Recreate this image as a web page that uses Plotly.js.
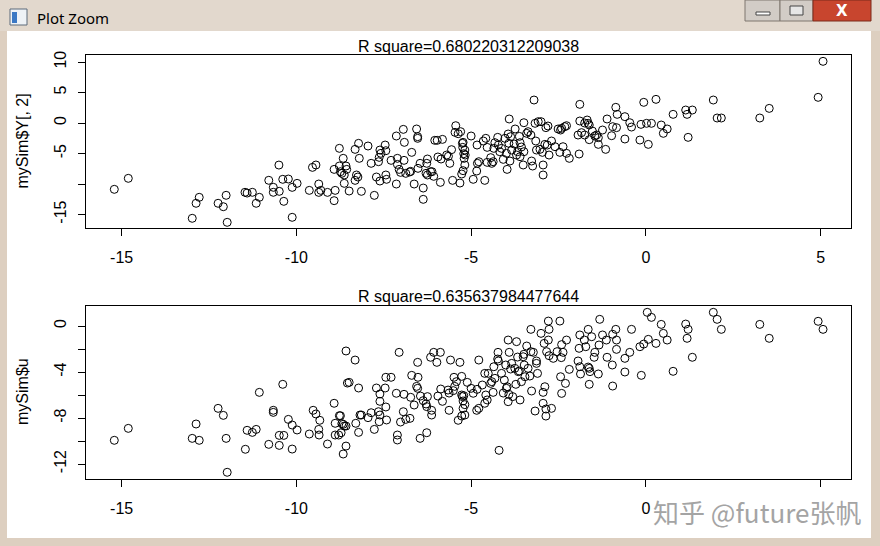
<!DOCTYPE html>
<html><head><meta charset="utf-8">
<script src="https://cdn.plot.ly/plotly-3.0.1.min.js"></script>
<style>html,body{margin:0;padding:0;background:#ddd0c2;overflow:hidden}#chart{width:880px;height:546px}</style>
</head><body><div id="chart"></div>
<script>
// ---- data (x = predictor, y = response) ----
const topX = [
-15.21,-14.81,-12.98,-12.87,-12.78,-12.24,-12.09,-12.01,-11.98,-11.47,-11.41,-11.26,-11.15,-11.06,-10.79,-10.66,-10.66,-10.50,-10.49,-10.39,-10.36,
-10.23,-10.12,-10.12,-9.98,-9.63,-9.54,-9.44,-9.36,-9.36,-9.30,
-9.11,-8.92,-8.89,-8.92,-8.77,-8.77,-8.74,-8.66,-8.70,-8.63,
-8.58,-8.56,-8.63,-8.49,-8.32,-8.32,-8.28,-8.24,-8.22,-8.20,
-8.14,-7.95,-7.86,-7.77,-7.71,-7.65,-7.63,-7.61,-7.58,-7.61,
-7.46,-7.44,-7.44,-7.42,-7.29,-7.14,-7.14,-7.11,-7.11,-7.06,
-7.02,-6.94,-6.92,-6.91,-6.87,-6.76,-6.73,-6.70,-6.63,-6.56,
-6.53,-6.53,-6.52,-6.46,-6.37,-6.37,-6.29,-6.27,-6.25,-6.25,
-6.16,-6.12,-6.07,-6.04,-5.97,-5.95,-5.88,-5.86,-5.82,-5.70,
-5.65,-5.61,-5.56,-5.53,-5.46,-5.44,-5.37,-5.32,-5.30,-5.27,
-5.25,-5.24,-5.23,-5.21,-5.20,-5.18,-5.17,-5.18,-5.23,-5.00,
-4.94,-4.84,-4.83,-4.82,-4.78,
-4.61,-4.65,-4.58,-4.54,-4.54,-4.44,-4.41,-4.37,-4.35,-4.32,
-4.24,-4.22,-4.18,-4.13,-4.08,-4.03,-3.99,-3.97,-3.94,-3.92,
-3.91,-3.89,-3.87,-3.84,-3.77,-3.74,-3.70,-3.67,-3.62,-3.60,
-3.60,-3.56,-3.51,-3.49,-3.49,-3.41,-3.37,-3.29,-3.27,-3.24,
-3.20,-3.17,-3.15,-3.13,-3.08,-3.03,-3.00,-2.96,-2.94,-2.94,
-2.89,-2.86,-2.82,-2.80,-2.77,-2.70,-2.60,-2.51,-2.46,-2.44,
-2.41,-2.37,-2.32,-2.27,-2.27,-2.19,-1.94,-1.91,-1.89,-1.89,
-1.84,-1.75,-1.75,-1.68,-1.65,-1.62,-1.62,-1.53,-1.46,-1.41,
-1.36,-1.36,-1.24,-1.15,-1.11,-0.98,-0.95,-0.86,-0.84,-0.82,
-0.60,-0.60,-0.46,-0.41,-0.17,-0.14,-0.06,0.02,0.07,0.16,
0.29,0.44,0.50,0.61,
0.78,1.14,1.18,1.33,1.21,1.93,2.04,2.16,3.26,3.53,4.93,5.07
];
const topY = [
-10.87,-9.07,-15.62,-13.16,-12.18,-13.16,-13.72,-11.85,-16.28,-11.36,-11.48,-11.36,-13.16,-12.18,-9.39,-10.54,-11.36,-6.89,-11.20,-9.23,-12.84,
-9.18,-15.46,-10.55,-9.89,-11.04,-7.27,-6.88,-10.00,-11.37,-11.04,
-11.37,-12.73,-11.04,-7.60,-4.15,-7.05,-7.98,-5.79,-8.25,-8.52,
-7.05,-7.60,-9.89,-11.15,-9.40,-4.32,-8.52,-8.85,-3.33,-5.79,
-11.20,-3.77,-6.61,-11.86,-8.85,-6.34,-5.63,-4.43,-4.97,-9.51,
-3.61,-4.54,-8.52,-9.23,-6.12,-2.13,-10.00,-5.79,-6.78,-7.60,
-8.09,-1.04,-6.12,-3.17,-8.25,-8.03,-7.92,-4.81,-10.00,-0.98,
-2.24,-2.51,-7.43,-6.61,-10.66,-12.51,-8.25,-6.61,-5.90,-8.52,
-7.98,-7.98,-8.74,-2.84,-2.84,-5.57,-9.73,-5.90,-2.68,-5.25,
-5.46,-6.61,-4.37,-9.40,-1.53,-0.44,-1.75,-9.84,-1.42,-8.36,
-3.33,-3.99,-3.17,-5.03,-5.79,-4.43,-5.25,-6.88,-7.81,-2.13,
-9.23,-7.87,-3.61,-6.61,-6.34,
-9.40,-2.95,-2.51,-3.99,-6.45,-5.68,-6.61,-6.34,-4.15,-3.22,
-2.35,-3.61,-4.70,-4.15,-5.96,-2.51,-4.97,-7.60,-1.80,-3.33,
0.66,-6.23,-2.24,-4.43,-3.44,-0.98,-5.25,-4.70,-2.19,-3.22,
-5.52,-3.93,-6.88,0.05,-4.70,-1.69,-1.42,-1.97,-6.23,-7.05,
3.77,-0.05,-2.95,-4.43,0.22,-4.32,0.22,-4.81,-6.88,-8.52,
-3.50,-0.76,-3.61,-0.49,-5.25,-2.95,-3.88,-0.98,-4.81,-1.15,
-0.87,-3.88,-0.60,-0.44,-4.97,-5.79,-1.97,-5.08,3.06,0.33,
-1.58,-1.97,0.00,0.49,-0.05,-0.33,-2.73,-1.31,-2.13,-1.97,
-2.40,-3.50,-1.15,-4.32,0.66,-2.08,-0.60,2.57,-0.76,1.42,
1.04,-2.62,0.05,-0.66,-2.79,-0.22,3.39,-0.05,-3.50,-0.05,
3.88,-0.33,-1.69,-0.98,
1.42,2.13,1.42,2.13,-2.35,3.77,0.82,0.82,0.82,2.40,4.21,10.11
];
const botX = [
-15.21,-14.81,-12.98,-12.87,-12.78,-12.24,-12.09,-12.01,-11.98,-11.46,-11.41,-11.26,-11.15,-11.06,-10.79,-10.66,-10.66,-10.49,-10.49,-10.39,-10.36,
-10.12,-10.23,-10.12,-9.98,-9.63,-9.52,-9.44,-9.33,-9.36,-9.35,
-9.11,-8.92,-8.89,-8.77,-8.74,-8.89,-8.79,-8.70,-8.66,-8.63,
-8.58,-8.58,-8.66,-8.72,-8.58,-8.32,-8.54,-8.49,-8.22,-8.30,
-8.22,-8.18,-8.14,-7.95,-7.86,-7.77,-7.71,-7.63,-7.61,-7.61,
-7.65,-7.61,-7.46,-7.44,-7.42,-7.44,-7.29,-7.14,-7.11,-7.11,
-7.06,-7.02,-6.94,-6.92,-6.87,-6.75,-6.73,-6.70,-6.63,-6.53,
-6.52,-6.56,-6.53,-6.46,-6.45,-6.37,-6.29,-6.27,-6.27,-6.25,
-6.16,-6.13,-6.13,-6.07,-5.98,-5.88,-5.95,-5.82,-5.87,-5.66,
-5.63,-5.59,-5.51,-5.49,-5.42,-5.63,-5.47,-5.37,-5.32,-5.27,
-5.27,-5.25,-5.21,-5.23,-5.18,-5.23,-5.18,-5.27,-5.11,-5.00,
-4.94,-4.83,-4.84,-4.78,-4.78,
-4.68,-4.61,-4.61,-4.58,-4.54,-4.51,-4.44,-4.41,-4.37,-4.35,
-4.32,-4.24,-4.23,-4.22,-4.20,-4.13,-4.08,-4.05,-4.01,-3.99,
-3.97,-3.94,-3.92,-3.91,-3.94,-3.87,-3.84,-3.81,-3.75,-3.72,
-3.70,-3.67,-3.65,-3.62,-3.60,-3.56,-3.51,-3.49,-3.48,-3.46,
-3.41,-3.37,-3.32,-3.29,-3.27,-3.29,-3.22,-3.17,-3.13,-3.13,
-3.10,-3.00,-2.94,-2.94,-2.91,-2.89,-2.86,-2.84,-2.86,-2.79,
-2.79,-2.77,-2.77,-2.70,-2.65,-2.54,-2.46,-2.42,-2.41,-2.44,
-2.41,-2.37,-2.30,-2.27,-2.19,-1.94,-1.91,-1.89,-1.89,-1.87,
-1.76,-1.72,-1.65,-1.65,-1.62,-1.60,-1.62,-1.55,-1.48,-1.46,
-1.36,-1.34,-1.32,-1.24,-1.13,-1.11,-0.95,-0.96,-0.95,-0.86,
-0.84,-0.84,-0.60,-0.60,-0.46,-0.41,-0.17,-0.13,-0.06,0.04,
0.07,0.16,0.29,0.44,0.50,0.61,
0.78,1.14,1.21,1.18,1.33,1.93,2.04,2.16,3.26,3.53,4.93,5.07
];
const botY = [
-9.94,-8.90,-9.77,-8.52,-9.94,-7.16,-7.77,-9.77,-12.72,-10.72,-9.07,-9.25,-8.99,-5.77,-10.29,-7.33,-7.51,-9.51,-10.38,-5.07,-9.51,
-10.70,-8.12,-8.61,-9.04,-9.39,-7.33,-7.65,-8.20,-8.99,-9.48,
-10.26,-6.72,-9.48,-7.80,-7.80,-8.46,-9.48,-8.49,-8.55,-8.70,
-8.70,-10.44,-11.13,-9.28,-2.17,-2.96,-4.96,-4.90,-5.39,-8.46,
-9.25,-7.74,-7.74,-7.97,-7.54,-8.99,-5.39,-8.32,-5.91,-6.55,
-7.45,-7.74,-5.39,-7.04,-8.17,-4.46,-4.46,-5.85,-9.48,-9.91,
-2.29,-8.35,-7.45,-5.94,-8.12,-8.03,-6.20,-4.29,-6.87,-3.16,
-4.46,-5.25,-5.42,-9.77,-6.09,-6.49,-6.78,-9.28,-7.01,-6.14,
-2.72,-7.33,-7.74,-2.29,-3.16,-2.29,-6.09,-6.55,-5.48,-5.57,
-5.83,-2.96,-5.62,-4.46,-4.84,-7.33,-5.25,-8.20,-3.16,-4.38,
-6.00,-6.14,-6.06,-6.52,-6.84,-7.16,-7.74,-7.83,-4.90,-5.42,
-5.85,-5.51,-7.33,-2.96,-7.16,
-5.13,-4.12,-6.72,-6.00,-6.43,-4.12,-4.99,-4.84,-5.77,-3.54,
-4.55,-2.87,-2.29,-3.04,-10.81,-4.12,-5.83,-4.70,-3.39,-5.42,
-5.28,-1.22,-5.94,-2.29,-6.58,-3.74,-3.25,-6.14,-3.68,-5.07,
-1.36,-2.70,-3.97,-3.91,-6.43,-4.84,-2.67,-2.46,-3.39,-4.41,
-1.74,-3.68,-4.35,-2.23,-5.65,-0.29,-2.29,-7.39,-3.25,-3.04,
-4.12,-0.64,-5.77,-6.72,-1.51,-5.28,-7.22,-2.23,-7.83,-1.22,
0.43,-0.29,-2.58,-7.16,-2.81,-2.23,0.43,-2.75,-1.62,-4.41,
-5.86,-2.29,-4.99,-1.22,-3.77,-3.04,-1.94,-0.78,-3.54,-4.17,
-1.22,-1.80,-0.29,-3.57,-3.68,-3.97,-5.07,-0.93,-2.72,-2.29,
-4.17,-1.65,0.58,-0.78,-1.22,-2.72,-0.72,-3.39,-5.22,-0.29,
-1.22,-2.03,-2.81,-4.00,-2.29,-0.29,-1.80,-4.29,-1.57,1.19,
-1.16,0.75,-1.51,0.14,-0.64,-1.22,
-3.94,0.17,-0.29,-1.07,-2.72,1.19,0.58,-0.29,0.14,-1.07,0.41,-0.29
];
const xTicks = [-15,-10,-5,0,5];
const topXTickText = ['-15','-10','-5','0','5'];
const botXTickText = ['-15','-10','-5','0',''];   // the "5" is hidden under the watermark in the reference
const topYTicks = [-15,-10,-5,0,5,10];
const topYTickText = ['-15','','-5','0','5','10'];
const botYTicks = [-12,-10,-8,-6,-4,-2,0];
const botYTickText = ['-12','','-8','','-4','','0'];
const titles = ['R square=0.680220312209038','R square=0.635637984477644'];
const yTitles = ['mySim$Y[, 2]','mySim$u'];

// ---- page geometry helpers (decoration only) ----
const W = 880, H = 546;
const px = v => v / W, py = v => 1 - v / H;
function rect(x0, y0, x1, y1, fill, line, lw, layer) {
  return {type:'rect', xref:'paper', yref:'paper', x0:px(x0), x1:px(x1), y0:py(y1), y1:py(y0),
    fillcolor:fill, line:{color:line || fill, width: lw || 0}, layer: layer || 'below'};
}
const FONT = 'Liberation Sans, Arial, sans-serif';
const mk = {symbol:'circle-open', size:8, color:'#000', line:{width:1, color:'#000'}};

const traces = [
  {type:'scatter', mode:'markers', x:topX, y:topY, xaxis:'x', yaxis:'y', marker:mk, hoverinfo:'skip'},
  {type:'scatter', mode:'markers', x:botX, y:botY, xaxis:'x2', yaxis:'y2', marker:mk, hoverinfo:'skip'}
];

const xDom = [px(86), px(851)];
const common = {
  showline:true, mirror:true, linecolor:'#000', linewidth:1, showgrid:false, zeroline:false,
  ticks:'outside', ticklen:7, tickwidth:1, tickcolor:'#000',
  tickfont:{family:FONT, size:16, color:'#000'}, fixedrange:true
};
const layout = {
  width:W, height:H, margin:{l:0, r:0, t:0, b:0},
  paper_bgcolor:'#ddcfc0', plot_bgcolor:'rgba(0,0,0,0)', showlegend:false,
  xaxis: Object.assign({}, common, {domain:xDom, range:[-16.02, 5.87], tickvals:xTicks, ticktext:topXTickText, anchor:'y', ticklabelstandoff:8}),
  yaxis: Object.assign({}, common, {domain:[py(228), py(55)], range:[-17.21, 11.15], tickvals:topYTicks, ticktext:topYTickText, tickangle:-90, anchor:'x', ticklabelstandoff:6}),
  xaxis2: Object.assign({}, common, {domain:xDom, range:[-16.02, 5.87], tickvals:xTicks, ticktext:botXTickText, anchor:'y2', ticklabelstandoff:8}),
  yaxis2: Object.assign({}, common, {domain:[py(478.5), py(306)], range:[-13.26, 1.74], tickvals:botYTicks, ticktext:botYTickText, tickangle:-90, anchor:'x2', ticklabelstandoff:6}),
  shapes: [
    rect(0, 0, 880, 31, '#e2d8cd'),
    rect(7, 31, 871, 538, '#ffffff'),
    rect(10, 9, 27, 25, '#eef2f6', '#5d6b7a', 1, 'above'),
    rect(12, 12, 17, 23, '#3b78c4', '#3b78c4', 0, 'above'),
    rect(745, 0, 780, 21, '#d2ccc6', '#7f766e', 1, 'above'),
    rect(756, 12, 770, 15, '#ffffff', '#444', 1, 'above'),
    rect(780, 0, 813, 21, '#d2ccc6', '#7f766e', 1, 'above'),
    rect(790, 6, 803, 15, '#e6e6e6', '#444', 1, 'above'),
    rect(813, 0, 871, 21, '#c8452e', '#7a2a1a', 1, 'above')
  ],
  annotations: [
    {text:'Plot Zoom', x:px(35), y:py(18), xref:'paper', yref:'paper', xanchor:'left', yanchor:'middle', showarrow:false, font:{family:'Noto Sans, sans-serif', size:15, color:'#000'}},
    {text:'<b>X</b>', x:px(842), y:py(11), xref:'paper', yref:'paper', xanchor:'center', yanchor:'middle', showarrow:false, font:{family:'DejaVu Sans, sans-serif', size:15, color:'#fff'}},
    {text:titles[0], x:px(468.5), y:py(46), xref:'paper', yref:'paper', xanchor:'center', yanchor:'middle', showarrow:false, font:{family:FONT, size:16, color:'#000'}},
    {text:titles[1], x:px(468.5), y:py(296), xref:'paper', yref:'paper', xanchor:'center', yanchor:'middle', showarrow:false, font:{family:FONT, size:16, color:'#000'}},
    {text:yTitles[0], x:px(22), y:py(141.5), xref:'paper', yref:'paper', xanchor:'center', yanchor:'middle', textangle:-90, showarrow:false, font:{family:FONT, size:16, color:'#000'}},
    {text:yTitles[1], x:px(22), y:py(392), xref:'paper', yref:'paper', xanchor:'center', yanchor:'middle', textangle:-90, showarrow:false, font:{family:FONT, size:16, color:'#000'}},
    {text:'知乎 @future张帆', x:px(651), y:py(511), xref:'paper', yref:'paper', xanchor:'left', yanchor:'middle', showarrow:false, font:{family:'Noto Sans CJK SC, sans-serif', size:26, color:'#a4a4a4', shadow:'1px 1px 0px #ffffff'}}
  ]
};
Plotly.newPlot('chart', traces, layout, {displayModeBar:false, staticPlot:true});
</script>
</body></html>
